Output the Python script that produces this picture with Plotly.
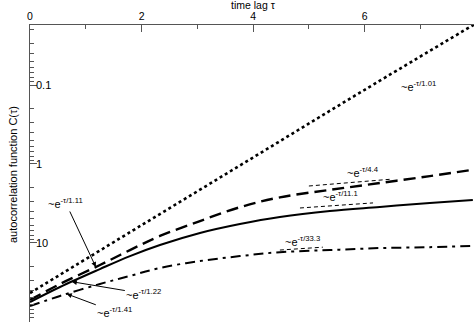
import numpy as np
import plotly.graph_objects as go

# Autocorrelation curves C(tau) for four cases, read along tau
tau_dotted = [0.0, 2.0, 4.0, 6.0, 8.0]
c_dotted = [43.5, 6.0, 0.83, 0.115, 0.0165]

tau_grid = [0.0, 0.538, 1.254, 1.792, 2.330, 3.047, 3.763, 4.480, 5.376, 6.272, 7.168, 7.939]
c_dashed = [53.3, 33.4, 19.2, 12.4, 8.22, 5.31, 3.55, 2.66, 2.14, 1.75, 1.43, 1.19]
c_solid = [56.6, 36.5, 21.6, 14.8, 10.7, 7.53, 5.80, 4.72, 3.96, 3.52, 3.13, 2.87]
c_dashdot = [63.5, 47.4, 33.4, 26.4, 20.9, 17.1, 14.8, 13.2, 12.4, 11.7, 11.4, 11.0]

# Long-time exponential asymptotes (short thin dashed segments)
tau_asym_dashed = [5.0, 6.5]
c_asym_dashed = [1.91, 1.56]
tau_asym_solid = [4.84, 6.15]
c_asym_solid = [3.63, 3.13]
tau_asym_dashdot = [4.48, 5.25]
c_asym_dashdot = [12.4, 11.4]

x_ticks = [0, 2, 4, 6]
x_minor = [1, 3, 5, 7]
y_ticks = [0.1, 1, 10]
y_tick_text = ["0.1", "1", "10"]

W, H = 474, 322
ML, MT = 30, 25

fig = go.Figure()

def add_curve(t, c, dash, width):
    fig.add_trace(go.Scatter(x=t, y=c, mode="lines",
                             line=dict(color="black", width=width, dash=dash, shape="spline", smoothing=1.0),
                             showlegend=False, hoverinfo="skip"))

add_curve(tau_dotted, c_dotted, "dot", 2.6)
add_curve(tau_grid, c_dashed, "12px,6px", 2.4)
add_curve(tau_grid, c_solid, "solid", 2.0)
add_curve(tau_grid, c_dashdot, "10px,5px,3px,5px", 2.0)

for t, c in [(tau_asym_dashed, c_asym_dashed), (tau_asym_solid, c_asym_solid), (tau_asym_dashdot, c_asym_dashdot)]:
    fig.add_trace(go.Scatter(x=t, y=c, mode="lines",
                             line=dict(color="black", width=1, dash="4px,3px"),
                             showlegend=False, hoverinfo="skip"))

def px(xp, yp):
    # pixel position -> paper coordinates
    return (xp - ML) / (W - ML), 1 - (yp - MT) / (H - MT)

def on_curve(t, c, at):
    return float(10 ** np.interp(at, t, np.log10(c)))

font = dict(family="Liberation Sans, Arial, sans-serif", size=11, color="black")
ann = []

# y tick labels, set just inside the left axis
for v, s in zip(y_ticks, y_tick_text):
    ann.append(dict(x=0.008, y=np.log10(v), xref="paper", yref="y", xanchor="left", yanchor="middle",
                    text=s, showarrow=False, font=font))

# labels beside the long-time tails
for (xx, yy), label in [((418, 86), "~e<sup>-τ/1.01</sup>"),
                        ((363, 172), "~e<sup>-τ/4.4</sup>"),
                        ((340, 196), "~e<sup>-τ/11.1</sup>"),
                        ((302, 241), "~e<sup>-τ/33.3</sup>")]:
    xp, yp = px(xx, yy)
    ann.append(dict(x=xp, y=yp, xref="paper", yref="paper", xanchor="center", yanchor="middle",
                    text=label, showarrow=False, font=font))

# labels with arrows at short times
for t, c, at, label, axo, ayo in [(tau_grid, c_dashed, 1.18, "~e<sup>-τ/1.11</sup>", -30, -64),
                                  (tau_grid, c_solid, 0.75, "~e<sup>-τ/1.22</sup>", 72, 12),
                                  (tau_grid, c_dashdot, 0.66, "~e<sup>-τ/1.41</sup>", 48, 18)]:
    ann.append(dict(x=at, y=np.log10(on_curve(t, c, at)), xref="x", yref="y", text=label,
                    showarrow=True, arrowhead=2, arrowsize=1, arrowwidth=1, arrowcolor="black",
                    ax=axo, ay=ayo, font=font))

# axis titles
xp, yp = px(253, 5)
ann.append(dict(x=xp, y=yp, xref="paper", yref="paper", xanchor="center", yanchor="middle",
                text="time lag τ", showarrow=False, font=dict(font, size=10.5)))
xp, yp = px(13, 175)
ann.append(dict(x=xp, y=yp, xref="paper", yref="paper", xanchor="center", yanchor="middle",
                text="autocorrelation function C(τ)", textangle=-90, showarrow=False, font=dict(font, size=11)))

fig.update_layout(
    width=W, height=H,
    margin=dict(l=ML, r=0, t=MT, b=0),
    paper_bgcolor="white", plot_bgcolor="white",
    annotations=ann,
    xaxis=dict(range=[0, 7.96], side="top", tickvals=x_ticks, ticks="inside", ticklen=7, tickwidth=1,
               tickcolor="#555", showline=True, linecolor="#555", linewidth=1, showgrid=False, zeroline=False,
               tickfont=dict(font, size=10.5), ticklabeloverflow="allow", ticklabelstandoff=0,
               minor=dict(tickvals=x_minor, ticks="inside", ticklen=4, tickcolor="#555")),
    yaxis=dict(type="log", range=[2.006, -1.761], tickvals=y_ticks, ticks="inside", showticklabels=False,
               ticklen=7, tickcolor="#555", showline=True, linecolor="#555", linewidth=1, showgrid=False,
               zeroline=False,
               minor=dict(ticks="inside", ticklen=4, tickcolor="#555", dtick="D1")),
)

fig.write_html("out.html")
